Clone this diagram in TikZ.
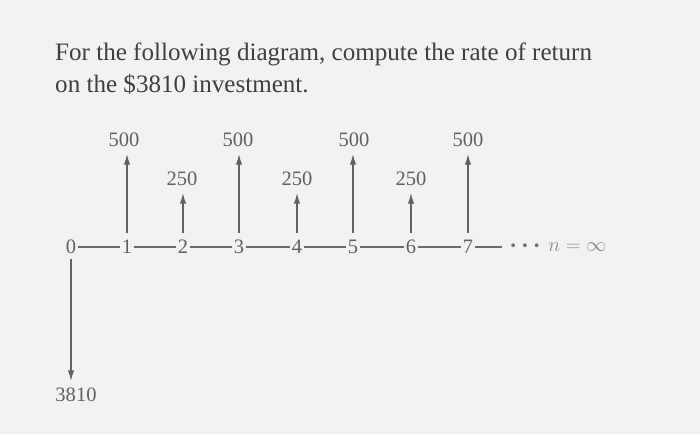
\documentclass[tikz,border=0pt]{standalone}
\usepackage{fontspec}
\setmainfont{Liberation Serif}
\usetikzlibrary{arrows.meta}
\tikzset{
	lbl/.style={text=black!62, font=\fontsize{17.5}{17.5}\selectfont, inner sep=1pt},
	flow/.style={draw=black!62, line width=1pt, -{Latex[length=9pt,width=5.5pt]}},
	axis/.style={draw=black!58, line width=0.9pt}
}

\begin{document}
\begin{tikzpicture}[x=0.03cm, y=-0.03cm]
	%%%%% START %%%%%
	
	\fill[black!5] (0, 0) rectangle (700, 434);
	\useasboundingbox (0, 0) rectangle (700, 434);
	
	\node[anchor=base west, text=black!75, font=\fontsize{21.4}{24}\selectfont, inner sep=0] (title1) at (55, 60) {For the following diagram, compute the rate of return};
	\node[anchor=base west, text=black!75, font=\fontsize{21.4}{24}\selectfont, inner sep=0] (title2) at (55, 92) {on the \$3810 investment.};
	
	\node[lbl] (t0) at (71, 247) {0};
	\node[lbl] (t1) at (127, 247) {1};
	\node[lbl] (t2) at (183, 247) {2};
	\node[lbl] (t3) at (239, 247) {3};
	\node[lbl] (t4) at (297, 247) {4};
	\node[lbl] (t5) at (353, 247) {5};
	\node[lbl] (t6) at (411, 247) {6};
	\node[lbl] (t7) at (468, 247) {7};
	\coordinate (axend) at (502, 247);
	
	\draw[axis] (t0) -- (t1);
	\draw[axis] (t1) -- (t2);
	\draw[axis] (t2) -- (t3);
	\draw[axis] (t3) -- (t4);
	\draw[axis] (t4) -- (t5);
	\draw[axis] (t5) -- (t6);
	\draw[axis] (t6) -- (t7);
	\draw[axis] (t7) -- (axend);
	
	\node[lbl, text=black!55, font=\bfseries\fontsize{20}{20}\selectfont, anchor=base] (dots) at (525, 253) {·\,·\,·};
	\node[lbl, text=black!45, anchor=west] (inf) at (547, 247) {$n=\infty$};
	
	\node[lbl] (v1) at (124, 140) {500};
	\node[lbl] (v3) at (238, 140) {500};
	\node[lbl] (v5) at (354, 140) {500};
	\node[lbl] (v7) at (468, 140) {500};
	\node[lbl] (w2) at (182, 179) {250};
	\node[lbl] (w4) at (297, 179) {250};
	\node[lbl] (w6) at (411, 179) {250};
	\node[lbl] (inv) at (76, 395) {3810};
	
	\draw[flow, shorten <=5pt, shorten >=5pt] (t1.north) -- (t1 |- v1.south);
	\draw[flow, shorten <=5pt, shorten >=5pt] (t3.north) -- (t3 |- v3.south);
	\draw[flow, shorten <=5pt, shorten >=5pt] (t5.north) -- (t5 |- v5.south);
	\draw[flow, shorten <=5pt, shorten >=5pt] (t7.north) -- (t7 |- v7.south);
	\draw[flow, shorten <=5pt, shorten >=5pt] (t2.north) -- (t2 |- w2.south);
	\draw[flow, shorten <=5pt, shorten >=5pt] (t4.north) -- (t4 |- w4.south);
	\draw[flow, shorten <=5pt, shorten >=5pt] (t6.north) -- (t6 |- w6.south);
	\draw[flow, shorten <=3pt, shorten >=5pt] (t0.south) -- (t0 |- inv.north);
	
	%%%%% END %%%%%
\end{tikzpicture}
\end{document}
